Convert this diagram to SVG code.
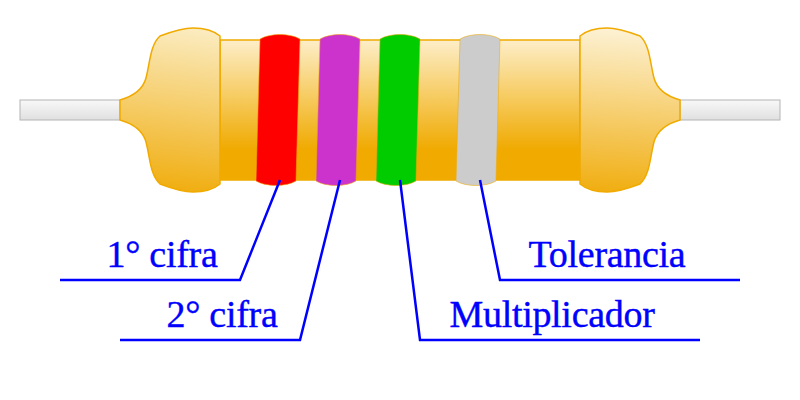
<svg xmlns="http://www.w3.org/2000/svg" width="800" height="400" viewBox="0 0 800 400">
<style>
.lead{stroke:#b4b4b4;stroke-width:1}
.cap{stroke:#f0aa00;stroke-width:1.5}
.band{stroke-width:1;stroke:#f0aa00;stroke-opacity:.55}
.c{fill:none;stroke:#0000ff;stroke-width:2.5}
text{font-family:"Liberation Serif","Times New Roman",serif;font-size:38px;fill:#0000ff;stroke:#0000ff;stroke-width:.4;text-anchor:middle;letter-spacing:-0.3px}
</style>
<defs>
<linearGradient id="lead" gradientUnits="userSpaceOnUse" x1="0" y1="100" x2="0" y2="120"><stop offset="0" stop-color="#f8f8f8"/><stop offset="1" stop-color="#e0e0e0"/></linearGradient>
<linearGradient id="body" gradientUnits="userSpaceOnUse" x1="0" y1="40" x2="0" y2="150"><stop offset="0" stop-color="#fdeec8"/><stop offset="1" stop-color="#f0aa00"/></linearGradient>
<linearGradient id="capL" gradientUnits="userSpaceOnUse" x1="195" y1="25" x2="175" y2="195"><stop offset="0" stop-color="#fbedc4"/><stop offset="1" stop-color="#f0ac0c"/></linearGradient>
<linearGradient id="capR" gradientUnits="userSpaceOnUse" x1="605" y1="25" x2="595" y2="195"><stop offset="0" stop-color="#fdf3d8"/><stop offset="1" stop-color="#f0ac0c"/></linearGradient>
</defs>
<g id="lead-left"><rect class="lead" fill="url(#lead)" x="20" y="100" width="100" height="20"/></g>
<g id="lead-right"><rect class="lead" fill="url(#lead)" x="680" y="100" width="100" height="20"/></g>
<g id="body-main"><rect x="220" y="40" width="360" height="140" fill="url(#body)" stroke="#f0aa00" stroke-width="1.5"/></g>
<g id="cap-left"><path class="cap" fill="url(#capL)" d="M120 100C134 96 143 89 146 78C150 63 150 45 160 36C176 30 186 28 193 28C205 28 214 31 220 36V184C214 189 205 192 193 192C186 192 176 190 160 184C150 175 150 157 146 142C143 131 134 124 120 120Z"/></g>
<g id="cap-right"><path class="cap" fill="url(#capR)" d="M680 100C666 96 657 89 654 78C650 63 650 45 640 36C624 30 614 28 607 28C595 28 586 31 580 36V184C586 189 595 192 607 192C614 192 624 190 640 184C650 175 650 157 654 142C657 131 666 124 680 120Z"/></g>
<g id="band-1"><path class="band" fill="#ff0000" d="M260 39C270 33 290 33 300 39L296 181C286 187 266 187 256 181Z"/></g>
<g id="band-2"><path class="band" fill="#cc33cc" d="M320 39C330 33 350 33 360 39L356 181C346 187 326 187 316 181Z"/></g>
<g id="band-3"><path class="band" fill="#00cc00" d="M380 39C390 33 410 33 420 39L416 181C406 187 386 187 376 181Z"/></g>
<g id="band-4"><path class="band" fill="#cccccc" d="M460 39C470 33 490 33 500 39L496 181C486 187 466 187 456 181Z"/></g>
<g id="connectors">
<path class="c" d="M60 280H240L280 180"/>
<path class="c" d="M120 340H300L340 180"/>
<path class="c" d="M700 340H420L400 180"/>
<path class="c" d="M740 280H500L480 180"/>
</g>
<g id="label-1"><text x="162" y="267">1° cifra</text></g>
<g id="label-2"><text x="222" y="327">2° cifra</text></g>
<g id="label-3"><text x="552" y="327">Multiplicador</text></g>
<g id="label-4"><text x="607" y="267">Tolerancia</text></g>
</svg>
